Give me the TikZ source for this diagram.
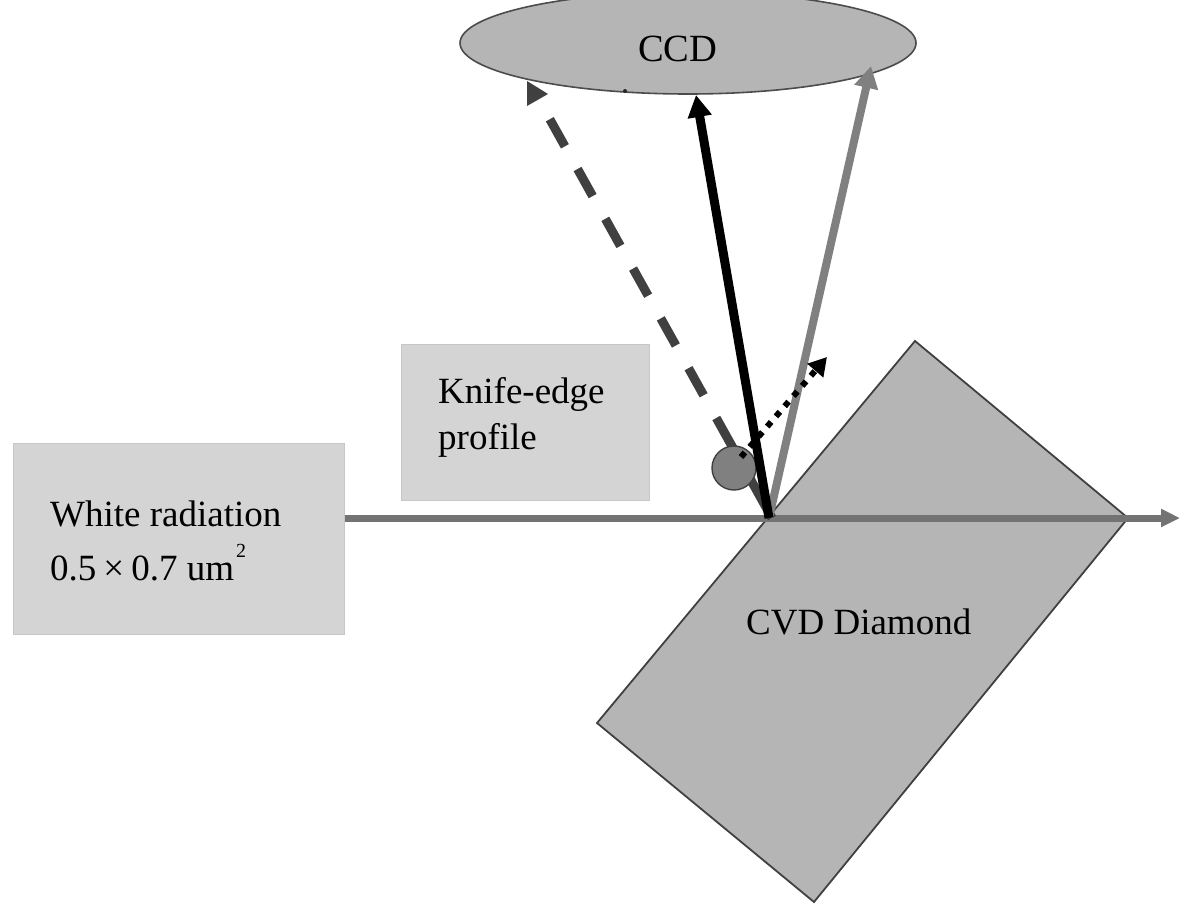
\documentclass[tikz,border=0pt]{standalone}
\usepackage{fontspec}
\setmainfont{Liberation Serif}
\usetikzlibrary{arrows.meta,shapes.geometric}
\definecolor{boxfill}{gray}{0.83}
\definecolor{shapefill}{gray}{0.71}
\definecolor{beam}{gray}{0.45}
\tikzset{x=1pt,y=-1pt,
 greybox/.style={fill=boxfill,draw=black!22,line width=0.8pt},
 lbl/.style={font=\fontsize{37}{41}\selectfont,inner sep=0pt,anchor=base west,align=left},
 ray/.style={-{Triangle[length=22pt,width=23pt]}}}
\begin{document}
\begin{tikzpicture}
\useasboundingbox (0,0) rectangle (1189,908);
\fill[white] (0,0) rectangle (1189,908);
\node[greybox,minimum width=331pt,minimum height=191pt,inner sep=0pt,anchor=north west] (wr) at (13,443) {};
\node[greybox,minimum width=248pt,minimum height=156pt,inner sep=0pt,anchor=north west] (ke) at (401,344) {};
\draw[fill=shapefill,draw=black!75,line width=1.8pt] (915,341) -- (1128,518) -- (814,902) -- (597,723) -- cycle;
\node[fill=shapefill,draw=black!70,line width=1.6pt,ellipse,minimum width=456pt,minimum height=102pt,inner sep=0pt] (ccd) at (688,43) {};
\fill[black!85] (625,91) circle (2pt);
\coordinate (o) at (769,518);
\coordinate (o2) at (772,518);
\coordinate (beamend) at (1180,518);
\coordinate (t1) at (549.3,118.3);
\coordinate (t2) at (696,95);
\coordinate (t3) at (871,66);
\coordinate (t4) at (827,357);
\coordinate (d0) at (741,457);
\draw[beam,line width=7pt,-{Triangle[length=19pt,width=17pt]}] (wr.east |- o) -- (beamend);
\draw[black!75,line width=9pt,dash pattern=on 114.5pt off 26pt on 31pt off 26pt on 31pt off 26pt on 31pt off 26pt on 31pt off 26pt on 31pt off 26pt on 31pt off 300pt] (o2) -- (t1);
\fill[black!75] (527,81) -- (548,94) -- (527,106) -- cycle;
\node[circle,fill=black!50,draw=black!75,line width=1.4pt,minimum size=44pt,inner sep=0pt] (ball) at (734,468) {};
\draw[ray,black!50,line width=8pt] (o) -- (t3);
\draw[line width=6pt,black,dash pattern=on 6pt off 7.4pt,-{Triangle[length=18pt,width=20pt]}] (d0) -- (t4);
\draw[ray,black,line width=9pt] (o) -- (t2);
\node[lbl,font=\fontsize{38.5}{42}\selectfont] (l1) at (638,61) {CCD};
\node[lbl] (l2) at (438,403) {Knife-edge};
\node[lbl] (l3) at (438,449) {profile};
\node[lbl] (l4) at (50,526) {White radiation};
\node[lbl] (l5) at (50,580) {0.5\hspace*{7pt}×\hspace*{7pt}0.7 um\hspace*{2pt}\raisebox{23pt}{\fontsize{20}{22}\selectfont 2}};
\node[lbl] (l6) at (746,634) {CVD Diamond};
\end{tikzpicture}
\end{document}
